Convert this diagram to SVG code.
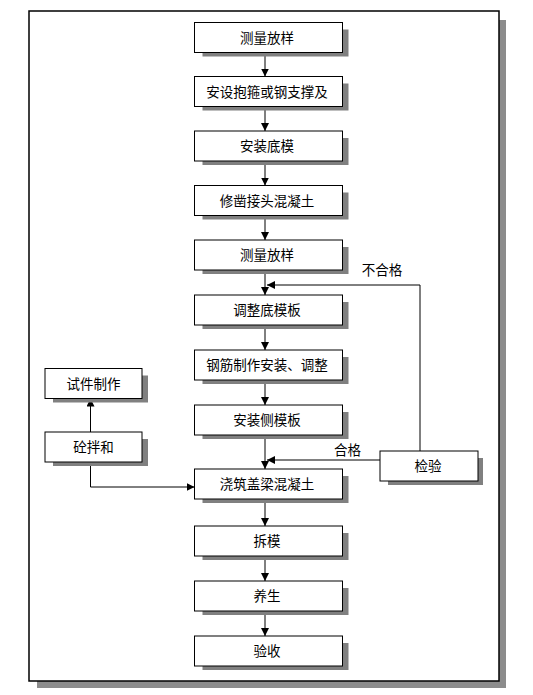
<svg xmlns="http://www.w3.org/2000/svg" width="533" height="695" viewBox="0 0 533 695">
<style>
.box{fill:#fff;stroke:#000;stroke-width:1}
.sh{fill:#808080;stroke:none}
.t{font-family:"Noto Sans CJK SC","Noto Sans",sans-serif;font-size:13.5px;fill:#000;text-anchor:middle}
.c{fill:none;stroke:#000;stroke-width:1}
.cg{fill:none;stroke:#555;stroke-width:1}
</style>
<defs>
<marker id="ah" markerUnits="userSpaceOnUse" markerWidth="9" markerHeight="9" refX="8" refY="4" orient="auto">
<path d="M0,0 L8,4 L0,8 z" fill="#000"/>
</marker>
</defs>
<rect x="37" y="20" width="469" height="668" fill="#8c8c8c"/>
<rect x="29" y="11" width="470" height="670" fill="#fff" stroke="#000" stroke-width="1.5"/>

<g id="connectors">
<line class="c" x1="265" y1="52.5" x2="265" y2="76.5" marker-end="url(#ah)"/>
<line class="c" x1="265" y1="106.5" x2="265" y2="131" marker-end="url(#ah)"/>
<line class="c" x1="265" y1="161" x2="265" y2="185.5" marker-end="url(#ah)"/>
<line class="c" x1="265" y1="215.5" x2="265" y2="240" marker-end="url(#ah)"/>
<line class="c" x1="265" y1="270" x2="265" y2="295" marker-end="url(#ah)"/>
<line class="c" x1="265" y1="325" x2="265" y2="350" marker-end="url(#ah)"/>
<line class="c" x1="265" y1="380" x2="265" y2="405" marker-end="url(#ah)"/>
<line class="c" x1="265" y1="435" x2="265" y2="469" marker-end="url(#ah)"/>
<line class="c" x1="265" y1="499" x2="265" y2="526" marker-end="url(#ah)"/>
<line class="c" x1="265" y1="556" x2="265" y2="581" marker-end="url(#ah)"/>
<line class="c" x1="265" y1="611" x2="265" y2="636" marker-end="url(#ah)"/>
<polyline class="c" points="420,451 420,285 267,285" marker-end="url(#ah)"/>
<line class="c" x1="380" y1="460" x2="267" y2="460" marker-end="url(#ah)"/>
<line class="c" x1="90.5" y1="432" x2="90.5" y2="398.5" marker-end="url(#ah)"/>
<polyline class="c" points="90.5,462 90.5,487 194.5,487" marker-end="url(#ah)"/>
<text class="t" x="382" y="275">不合格</text>
<text class="t" x="347.5" y="455">合格</text>
</g>

<g id="n1"><rect class="sh" x="202.5" y="29.5" width="146" height="27"/><rect class="box" x="194.5" y="22.5" width="148" height="30"/><text class="t" x="267" y="42.5">测量放样</text></g>
<g id="n2"><rect class="sh" x="202.5" y="83.5" width="146" height="27"/><rect class="box" x="194.5" y="76.5" width="148" height="30"/><text class="t" x="267" y="96.5">安设抱箍或钢支撑及</text></g>
<g id="n3"><rect class="sh" x="202.5" y="138" width="146" height="27"/><rect class="box" x="194.5" y="131" width="148" height="30"/><text class="t" x="267" y="151">安装底模</text></g>
<g id="n4"><rect class="sh" x="202.5" y="192.5" width="146" height="27"/><rect class="box" x="194.5" y="185.5" width="148" height="30"/><text class="t" x="267" y="205.5">修凿接头混凝土</text></g>
<g id="n5"><rect class="sh" x="202.5" y="247" width="146" height="27"/><rect class="box" x="194.5" y="240" width="148" height="30"/><text class="t" x="267" y="260">测量放样</text></g>
<g id="n6"><rect class="sh" x="202.5" y="302" width="146" height="27"/><rect class="box" x="194.5" y="295" width="148" height="30"/><text class="t" x="267" y="315">调整底模板</text></g>
<g id="n7"><rect class="sh" x="202.5" y="357" width="146" height="27"/><rect class="box" x="194.5" y="350" width="148" height="30"/><text class="t" x="267" y="370">钢筋制作安装、调整</text></g>
<g id="n8"><rect class="sh" x="202.5" y="412" width="146" height="27"/><rect class="box" x="194.5" y="405" width="148" height="30"/><text class="t" x="267" y="425">安装侧模板</text></g>
<g id="n9"><rect class="sh" x="202.5" y="476" width="146" height="27"/><rect class="box" x="194.5" y="469" width="148" height="30"/><text class="t" x="267" y="489">浇筑盖梁混凝土</text></g>
<g id="n10"><rect class="sh" x="202.5" y="533" width="146" height="27"/><rect class="box" x="194.5" y="526" width="148" height="30"/><text class="t" x="267" y="546">拆模</text></g>
<g id="n11"><rect class="sh" x="202.5" y="588" width="146" height="27"/><rect class="box" x="194.5" y="581" width="148" height="30"/><text class="t" x="267" y="601">养生</text></g>
<g id="n12"><rect class="sh" x="202.5" y="643" width="146" height="27"/><rect class="box" x="194.5" y="636" width="148" height="30"/><text class="t" x="267" y="656">验收</text></g>
<g id="n13"><rect class="sh" x="53" y="375.5" width="95" height="27"/><rect class="box" x="45" y="368.5" width="97" height="30"/><text class="t" x="93.5" y="388.5">试件制作</text></g>
<g id="n14"><rect class="sh" x="53" y="439" width="95" height="27"/><rect class="box" x="45" y="432" width="97" height="30"/><text class="t" x="93.5" y="452">砼拌和</text></g>
<g id="n15"><rect class="sh" x="388" y="458" width="95" height="27"/><rect class="box" x="380" y="451" width="98" height="30"/><text class="t" x="428" y="471">检验</text></g>
</svg>
